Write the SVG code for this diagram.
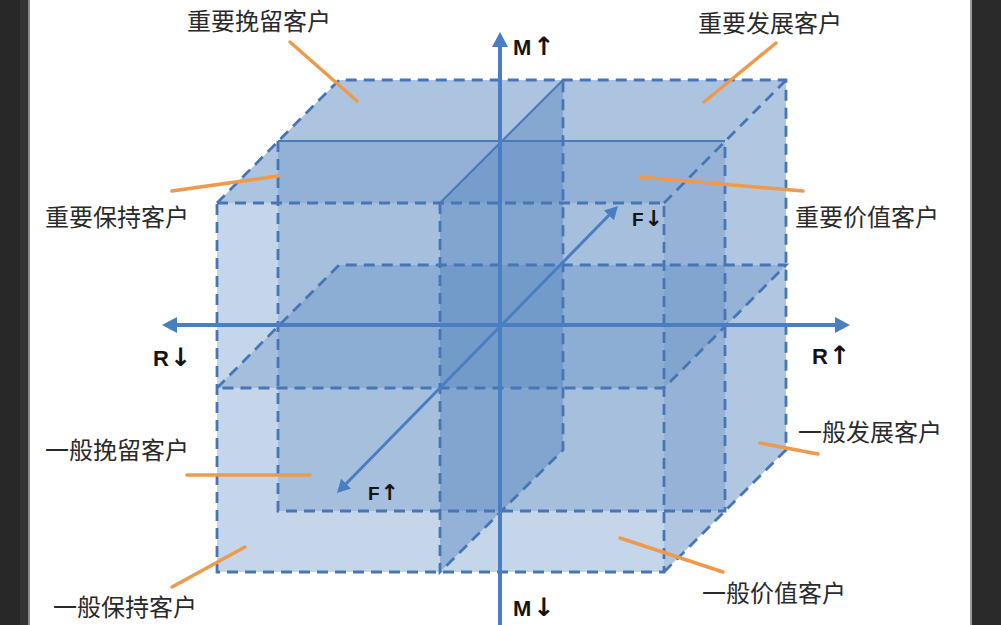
<svg xmlns="http://www.w3.org/2000/svg" width="1001" height="625" viewBox="0 0 1001 625">
<defs>
<style>
.face{fill:#4f81bd;stroke:none}
.dash{fill:none;stroke:#4676b5;stroke-width:2.8;stroke-dasharray:11 7}
.axis{stroke:#4a7ec2;stroke-width:4;fill:none}
.faxis{stroke:#4a7ec2;stroke-width:3;fill:none}
.lead{stroke:#ee9a4d;stroke-width:3.5;stroke-linecap:round;fill:none}
.lbl{font-family:"Noto Sans CJK SC","Noto Sans",sans-serif;font-size:24px;fill:#2a2a2a}
.ax{font-family:"Liberation Sans",Arial,sans-serif;font-weight:bold;font-size:22px;fill:#141414}
.arr{font-family:"DejaVu Sans",sans-serif;font-weight:bold;font-size:1.15em}
</style>
<marker id="ah" markerUnits="userSpaceOnUse" markerWidth="16" markerHeight="18" viewBox="0 -9 16 18" refX="0" refY="0" orient="auto-start-reverse">
<path d="M0,-8 L15,0 L0,8 z" fill="#4a7ec2"/>
</marker>
<marker id="ahs" markerUnits="userSpaceOnUse" markerWidth="14" markerHeight="16" viewBox="0 -8 14 16" refX="0" refY="0" orient="auto-start-reverse">
<path d="M0,-7 L13,0 L0,7 z" fill="#4a7ec2"/>
</marker>
</defs>
<rect x="0" y="0" width="1001" height="625" fill="#ffffff"/>
<rect x="0" y="0" width="28" height="625" fill="#282828"/>
<rect x="20" y="0" width="8" height="625" fill="#333333"/>
<rect x="28" y="0" width="2" height="625" fill="#8c8c8c"/>
<rect x="970" y="0" width="2" height="625" fill="#9a9a9a"/>
<rect x="972" y="0" width="29" height="625" fill="#2a2a2a"/>

<g id="cube">
<rect class="face" x="217" y="203" width="447" height="369" fill-opacity="0.32"/>
<polygon class="face" points="217,203 339,80 786,80 664,203" fill-opacity="0.47"/>
<polygon class="face" points="664,203 786,80 786,450 664,572" fill-opacity="0.45"/>
<rect class="face" x="278" y="141" width="447" height="370" fill-opacity="0.265"/>
<polygon class="face" points="217,388 339,265 786,265 664,388" fill-opacity="0.28"/>
<polygon class="face" points="440,203 563,80 563,450 440,572" fill-opacity="0.42"/>
</g>

<g id="edges">
<rect class="dash" x="217" y="203" width="447" height="369"/>
<polyline class="dash" points="217,203 339,80 786,80 786,450 664,572"/>
<line class="dash" x1="664" y1="203" x2="786" y2="80"/>
<line x1="278" y1="141" x2="725" y2="141" stroke="#4a7ab8" stroke-width="2"/>
<polyline class="dash" points="278,141 278,511 725,511 725,141"/>
<polygon class="dash" points="217,388 339,265 786,265 664,388"/>
<line x1="440" y1="203" x2="563" y2="80" stroke="#4a7ab8" stroke-width="2"/>
<polyline class="dash" points="440,203 440,572 563,450 563,80"/>
</g>

<g id="connectors">
<line class="axis" x1="500" y1="47" x2="500" y2="640" marker-start="url(#ah)"/>
<line class="axis" x1="177" y1="325" x2="835" y2="325" marker-start="url(#ah)" marker-end="url(#ah)"/>
<line class="faxis" x1="346.1" y1="483.7" x2="608.9" y2="215.3" marker-start="url(#ahs)" marker-end="url(#ahs)"/>
<line class="lead" x1="290" y1="42" x2="357" y2="101"/>
<line class="lead" x1="776" y1="43" x2="704" y2="102"/>
<line class="lead" x1="172" y1="191" x2="278" y2="176"/>
<line class="lead" x1="640" y1="177" x2="803" y2="191"/>
<line class="lead" x1="187" y1="475" x2="310" y2="475"/>
<line class="lead" x1="172" y1="587" x2="245" y2="547"/>
<line class="lead" x1="760" y1="443" x2="818" y2="454"/>
<line class="lead" x1="620" y1="538" x2="723" y2="572"/>
</g>

<g id="axis-labels">
<text class="ax" x="513" y="55">M<tspan class="arr" dx="2">↑</tspan></text>
<text class="ax" x="513" y="616">M<tspan class="arr" dx="2">↓</tspan></text>
<text class="ax" x="153" y="366">R<tspan class="arr" dx="1">↓</tspan></text>
<text class="ax" x="812" y="364">R<tspan class="arr" dx="1">↑</tspan></text>
<text class="ax" x="632" y="226" style="font-size:19px">F<tspan class="arr" dx="1">↓</tspan></text>
<text class="ax" x="368" y="500" style="font-size:19px">F<tspan class="arr" dx="1">↑</tspan></text>
</g>

<g id="label-zyw"><text class="lbl" x="187" y="30">重要挽留客户</text></g>
<g id="label-zyfz"><text class="lbl" x="698" y="32">重要发展客户</text></g>
<g id="label-zybc"><text class="lbl" x="45" y="226">重要保持客户</text></g>
<g id="label-zyjz"><text class="lbl" x="795" y="226">重要价值客户</text></g>
<g id="label-ybwl"><text class="lbl" x="45" y="459">一般挽留客户</text></g>
<g id="label-ybbc"><text class="lbl" x="53" y="616">一般保持客户</text></g>
<g id="label-ybfz"><text class="lbl" x="798" y="441">一般发展客户</text></g>
<g id="label-ybjz"><text class="lbl" x="702" y="602">一般价值客户</text></g>
</svg>
